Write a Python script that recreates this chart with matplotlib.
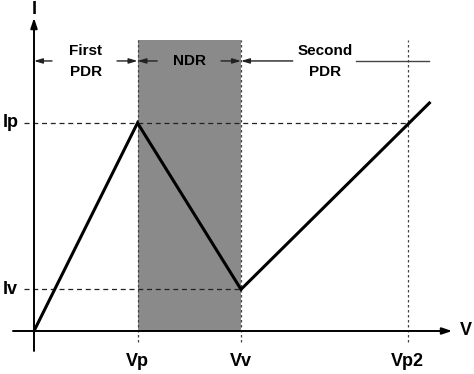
import matplotlib
matplotlib.use('Agg')
import matplotlib.pyplot as plt
from matplotlib.patches import Rectangle

plt.rcParams['font.family'] = ['Liberation Sans', 'DejaVu Sans']
plt.rcParams['font.weight'] = 'bold'

# I-V curve (normalised units: Vp = 1, Ip = 1)
curve_v = [0.0, 1.0, 2.0, 3.82]
curve_i = [0.0, 1.0, 0.2, 1.096]

# characteristic points
v_ticks = [1.0, 2.0, 3.61]
v_labels = ['Vp', 'Vv', 'Vp2']
i_ticks = [1.0, 0.2]
i_labels = ['Ip', 'Iv']

# regions: (start, end, first line, second line)
regions = [(0.0, 1.0, 'First', 'PDR'), (1.0, 2.0, 'NDR', ''), (2.0, 3.82, 'Second', 'PDR')]

fig = plt.figure(figsize=(4.74, 3.74), dpi=100)
ax = fig.add_axes([0, 0, 1, 1])
ax.set_xlim(-0.3285, 4.251)
ax.set_ylim(-0.2067, 1.591)
ax.axis('off')

top = 1.399
bottom = -0.053

# NDR shaded region
ax.add_patch(Rectangle((v_ticks[0], 0), v_ticks[1] - v_ticks[0], top,
                       facecolor='#8a8a8a', edgecolor='none', zorder=0))

# vertical dotted guides
for v in v_ticks:
    ax.plot([v, v], [bottom, top], color='#444444', lw=0.9, ls=(0, (2, 2)), zorder=1)

# horizontal dashed guides
ax.plot([-0.10, v_ticks[2]], [i_ticks[0]] * 2, color='#222222', lw=0.9, ls=(0, (4, 3)), zorder=1)
ax.plot([-0.10, v_ticks[1]], [i_ticks[1]] * 2, color='#222222', lw=0.9, ls=(0, (4, 3)), zorder=1)

# axes with arrows
arr = dict(arrowstyle='-|>,head_length=0.6,head_width=0.2', color='black', lw=1.4,
           shrinkA=0, shrinkB=0)
ax.annotate('', xy=(0, 1.505), xytext=(0, -0.096), arrowprops=arr, zorder=3)
ax.annotate('', xy=(4.04, 0), xytext=(-0.203, 0), arrowprops=arr, zorder=3)
ax.text(0, 1.588, 'I', ha='center', va='top', fontsize=13)
ax.text(4.174, 0, 'V', ha='center', va='center', fontsize=13)

# I-V curve
ax.plot(curve_v, curve_i, color='black', lw=2.2, solid_joinstyle='miter', zorder=4)

# tick labels
for v, lab in zip(v_ticks, v_labels):
    ax.text(v, -0.145, lab, ha='center', va='center', fontsize=13)
for i, lab in zip(i_ticks, i_labels):
    ax.text(-0.30, i, lab, ha='left', va='center', fontsize=13)

# region arrows and labels
row = 1.298
small = dict(arrowstyle='-|>,head_length=0.5,head_width=0.15', color='#222222', lw=1.0,
             shrinkA=0, shrinkB=0)
ax.annotate('', xy=(0.0, row), xytext=(0.174, row), arrowprops=small)
ax.annotate('', xy=(1.0, row), xytext=(0.802, row), arrowprops=small)
ax.annotate('', xy=(1.0, row), xytext=(1.19, row), arrowprops=small)
ax.annotate('', xy=(2.0, row), xytext=(1.807, row), arrowprops=small)
ax.annotate('', xy=(2.0, row), xytext=(2.50, row), arrowprops=small)
ax.plot([3.11, 3.82], [row, row], color='#444444', lw=1.0)

for start, end, l1, l2 in regions:
    c = 0.5 * (start + end)
    if start == 2.0:
        c = 2.81
    if l2:
        ax.text(c, 1.348, l1, ha='center', va='center', fontsize=11)
        ax.text(c, 1.245, l2, ha='center', va='center', fontsize=11)
    else:
        ax.text(c, row, l1, ha='center', va='center', fontsize=11)

fig.savefig('out.png', dpi=100)
